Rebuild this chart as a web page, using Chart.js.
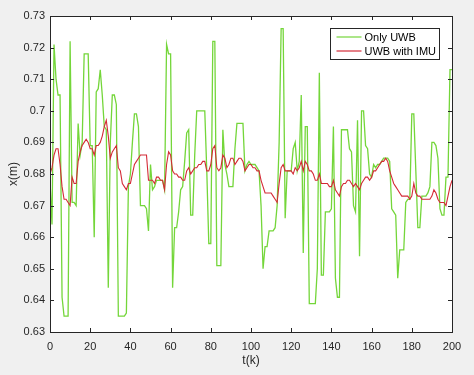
<!DOCTYPE html>
<html>
<head>
<meta charset="utf-8">
<script src="https://cdn.jsdelivr.net/npm/chart.js@4.4.1/dist/chart.umd.min.js"></script>
<style>
  html, body { margin: 0; padding: 0; background: #f0f0f0; }
  canvas { display: block; }
</style>
</head>
<body>
<canvas id="myChart" width="474" height="375"></canvas>
<script>
// time step index t(k)
var tIndex = Array.from({ length: 201 }, function (_, i) { return i; });

var seriesNames = ['Only UWB', 'UWB with IMU'];

var onlyUwb = [
    0.678, 0.664, 0.721, 0.710, 0.705, 0.705, 0.641, 0.635, 0.635, 0.635,
    0.722, 0.671, 0.671, 0.670, 0.696, 0.686, 0.690, 0.718, 0.718, 0.718,
    0.689, 0.689, 0.660, 0.706, 0.707, 0.713, 0.705, 0.695, 0.694, 0.644,
    0.690, 0.705, 0.705, 0.702, 0.635, 0.635, 0.635, 0.635, 0.636, 0.676,
    0.680, 0.690, 0.699, 0.699, 0.695, 0.670, 0.670, 0.670, 0.669, 0.662,
    0.683, 0.675, 0.676, 0.678, 0.678, 0.678, 0.678, 0.675, 0.721, 0.718,
    0.718, 0.644, 0.663, 0.663, 0.668, 0.675, 0.676, 0.684, 0.693, 0.694,
    0.667, 0.667, 0.686, 0.700, 0.700, 0.700, 0.700, 0.700, 0.681, 0.658,
    0.658, 0.722, 0.722, 0.651, 0.651, 0.651, 0.694, 0.683, 0.680, 0.676,
    0.676, 0.676, 0.688, 0.696, 0.696, 0.696, 0.696, 0.681, 0.683, 0.684,
    0.683, 0.683, 0.683, 0.682, 0.681, 0.670, 0.650, 0.657, 0.657, 0.662,
    0.662, 0.662, 0.663, 0.670, 0.690, 0.726, 0.726, 0.666, 0.681, 0.681,
    0.681, 0.688, 0.690, 0.681, 0.684, 0.705, 0.655, 0.695, 0.695, 0.639,
    0.639, 0.639, 0.639, 0.650, 0.712, 0.648, 0.648, 0.668, 0.668, 0.668,
    0.669, 0.695, 0.647, 0.641, 0.641, 0.694, 0.694, 0.694, 0.694, 0.688,
    0.687, 0.670, 0.668, 0.697, 0.654, 0.700, 0.700, 0.689, 0.688, 0.680,
    0.679, 0.683, 0.682, 0.683, 0.683, 0.684, 0.685, 0.685, 0.685, 0.684,
    0.669, 0.668, 0.667, 0.647, 0.656, 0.656, 0.656, 0.671, 0.672, 0.672,
    0.699, 0.699, 0.681, 0.663, 0.663, 0.673, 0.673, 0.673, 0.674, 0.676,
    0.690, 0.690, 0.689, 0.685, 0.669, 0.667, 0.667, 0.679, 0.679, 0.713,
    0.713
];

var uwbWithImu = [
    0.680, 0.682, 0.686, 0.688, 0.688, 0.683, 0.676, 0.672, 0.672, 0.671,
    0.670, 0.679, 0.677, 0.677, 0.684, 0.687, 0.689, 0.690, 0.691, 0.690,
    0.688, 0.688, 0.686, 0.689, 0.689, 0.690, 0.692, 0.695, 0.697, 0.692,
    0.685, 0.687, 0.688, 0.689, 0.682, 0.681, 0.677, 0.676, 0.675, 0.677,
    0.677, 0.680, 0.683, 0.684, 0.685, 0.686, 0.686, 0.686, 0.686, 0.678,
    0.678, 0.678, 0.677, 0.679, 0.679, 0.678, 0.678, 0.675, 0.683, 0.687,
    0.686, 0.681, 0.680, 0.680, 0.679, 0.679, 0.678, 0.678, 0.681, 0.682,
    0.680, 0.681, 0.682, 0.682, 0.683, 0.683, 0.684, 0.684, 0.681, 0.681,
    0.683, 0.688, 0.689, 0.682, 0.681, 0.682, 0.686, 0.685, 0.682, 0.683,
    0.685, 0.685, 0.683, 0.684, 0.685, 0.685, 0.684, 0.681, 0.682, 0.683,
    0.683, 0.682, 0.682, 0.681, 0.681, 0.678, 0.676, 0.674, 0.674, 0.674,
    0.674, 0.673, 0.672, 0.671, 0.677, 0.682, 0.683, 0.681, 0.681, 0.681,
    0.681, 0.680, 0.682, 0.681, 0.682, 0.684, 0.681, 0.684, 0.683, 0.681,
    0.681, 0.680, 0.678, 0.678, 0.680, 0.677, 0.677, 0.677, 0.677, 0.676,
    0.676, 0.678, 0.675, 0.674, 0.673, 0.676, 0.677, 0.677, 0.678, 0.678,
    0.677, 0.676, 0.677, 0.676, 0.675, 0.677, 0.678, 0.679, 0.679, 0.678,
    0.679, 0.681, 0.681, 0.682, 0.683, 0.684, 0.684, 0.685, 0.684, 0.681,
    0.679, 0.677, 0.676, 0.675, 0.674, 0.673, 0.673, 0.673, 0.673, 0.672,
    0.673, 0.677, 0.674, 0.673, 0.673, 0.672, 0.672, 0.672, 0.672, 0.672,
    0.673, 0.675, 0.674, 0.672, 0.671, 0.671, 0.671, 0.670, 0.673, 0.676,
    0.678
];

var axisColor = '#262626';
var fontFamily = "'Liberation Sans', Arial, sans-serif";

// matlab-like frame: grey figure, white axes, box with inward ticks, legend box
var matlabFrame = {
    id: 'matlabFrame',
    beforeDraw: function (chart) {
        var c = chart.ctx, a = chart.chartArea;
        c.save();
        c.fillStyle = '#f0f0f0';
        c.fillRect(0, 0, chart.width, chart.height);
        c.fillStyle = '#ffffff';
        c.fillRect(a.left, a.top, a.right - a.left, a.bottom - a.top);
        c.restore();
    },
    afterDraw: function (chart) {
        var c = chart.ctx, a = chart.chartArea;
        var xs = chart.scales.x, ys = chart.scales.y;
        c.save();
        c.strokeStyle = axisColor;
        c.lineWidth = 1;
        c.strokeRect(Math.round(a.left) + 0.5, Math.round(a.top) + 0.5,
            Math.round(a.right - a.left), Math.round(a.bottom - a.top));
        c.beginPath();
        xs.ticks.forEach(function (t) {
            var px = Math.round(xs.getPixelForValue(t.value)) + 0.5;
            c.moveTo(px, a.bottom); c.lineTo(px, a.bottom - 4);
            c.moveTo(px, a.top); c.lineTo(px, a.top + 4);
        });
        ys.ticks.forEach(function (t) {
            var py = Math.round(ys.getPixelForValue(t.value)) + 0.5;
            c.moveTo(a.left, py); c.lineTo(a.left + 4, py);
            c.moveTo(a.right, py); c.lineTo(a.right - 4, py);
        });
        c.stroke();

        // legend
        var bx = Math.round(a.right) - 121.5, by = Math.round(a.top) + 12.5;
        var bw = 109, bh = 31;
        c.fillStyle = '#ffffff';
        c.fillRect(bx, by, bw, bh);
        c.strokeStyle = axisColor;
        c.strokeRect(bx, by, bw, bh);
        c.font = '11px ' + fontFamily;
        c.textBaseline = 'middle';
        chart.data.datasets.forEach(function (ds, i) {
            var ly = by + 8.5 + i * 14;
            c.strokeStyle = ds.borderColor;
            c.lineWidth = 1.2;
            c.beginPath();
            c.moveTo(bx + 6, ly); c.lineTo(bx + 31, ly);
            c.stroke();
            c.fillStyle = '#000000';
            c.fillText(ds.label, bx + 34, ly + 0.5);
        });
        c.restore();
    }
};

var ctx = document.getElementById('myChart').getContext('2d');
var myChart = new Chart(ctx, {
    type: 'line',
    data: {
        labels: tIndex,
        datasets: [
            {
                label: seriesNames[0],
                data: onlyUwb,
                borderColor: '#74d63a',
                borderWidth: 1.3,
                pointRadius: 0,
                tension: 0,
                order: 2
            },
            {
                label: seriesNames[1],
                data: uwbWithImu,
                borderColor: '#d42a36',
                borderWidth: 1.1,
                pointRadius: 0,
                tension: 0,
                order: 1
            }
        ]
    },
    options: {
        responsive: false,
        animation: false,
        layout: { padding: { top: 16, right: 22, left: 0, bottom: 0 } },
        plugins: {
            legend: { display: false },
            tooltip: { enabled: false }
        },
        scales: {
            x: {
                type: 'linear',
                min: 0,
                max: 200,
                grid: { display: false, drawTicks: false },
                border: { display: false },
                ticks: {
                    stepSize: 20,
                    padding: 8,
                    maxRotation: 0,
                    color: axisColor,
                    font: { family: fontFamily, size: 11 }
                },
                title: {
                    display: true,
                    text: 't(k)',
                    color: axisColor,
                    padding: { top: 0, bottom: 7 },
                    font: { family: fontFamily, size: 12 }
                },
                afterFit: function (s) { s.height = 43; }
            },
            y: {
                min: 0.63,
                max: 0.73,
                grid: { display: false, drawTicks: false },
                border: { display: false },
                ticks: {
                    stepSize: 0.01,
                    padding: 5,
                    color: axisColor,
                    font: { family: fontFamily, size: 11 },
                    callback: function (v) { return String(Number(v.toFixed(2))); }
                },
                title: {
                    display: true,
                    text: 'x(m)',
                    color: axisColor,
                    padding: { top: 6, bottom: 0 },
                    font: { family: fontFamily, size: 12 }
                },
                afterFit: function (s) { s.width = 50; }
            }
        }
    },
    plugins: [matlabFrame]
});
</script>
</body>
</html>
